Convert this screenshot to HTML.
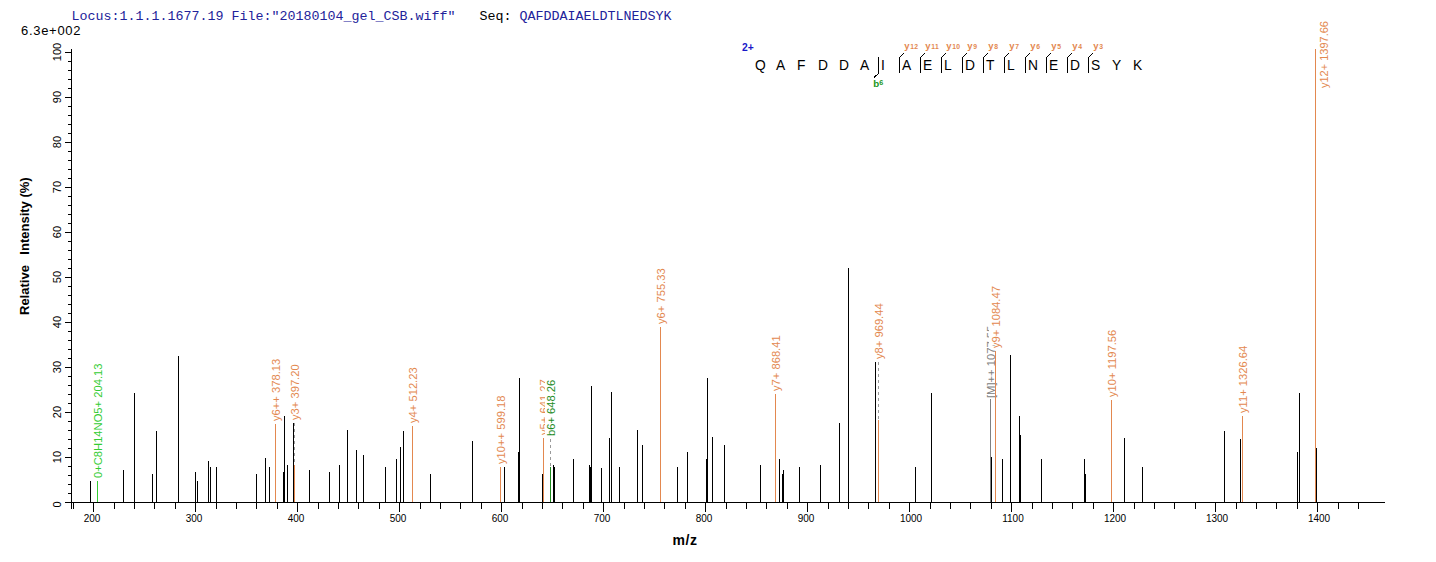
<!DOCTYPE html>
<html><head><meta charset="utf-8"><style>
html,body{margin:0;padding:0;background:#fff;width:1436px;height:562px;overflow:hidden}
svg{display:block}
</style></head><body>
<svg width="1436" height="562" viewBox="0 0 1436 562" shape-rendering="crispEdges">
<rect width="1436" height="562" fill="#fff"/>
<line x1="71.5" y1="49" x2="71.5" y2="509" stroke="#000" stroke-width="1"/>
<line x1="65" y1="502.5" x2="1385" y2="502.5" stroke="#000" stroke-width="1"/>
<line x1="65" y1="52.5" x2="71" y2="52.5" stroke="#000" stroke-width="1"/>
<line x1="68" y1="61.5" x2="71" y2="61.5" stroke="#000" stroke-width="1"/>
<line x1="68" y1="70.5" x2="71" y2="70.5" stroke="#000" stroke-width="1"/>
<line x1="68" y1="79.5" x2="71" y2="79.5" stroke="#000" stroke-width="1"/>
<line x1="68" y1="88.5" x2="71" y2="88.5" stroke="#000" stroke-width="1"/>
<line x1="65" y1="97.5" x2="71" y2="97.5" stroke="#000" stroke-width="1"/>
<line x1="68" y1="106.5" x2="71" y2="106.5" stroke="#000" stroke-width="1"/>
<line x1="68" y1="115.5" x2="71" y2="115.5" stroke="#000" stroke-width="1"/>
<line x1="68" y1="124.5" x2="71" y2="124.5" stroke="#000" stroke-width="1"/>
<line x1="68" y1="133.5" x2="71" y2="133.5" stroke="#000" stroke-width="1"/>
<line x1="65" y1="142.5" x2="71" y2="142.5" stroke="#000" stroke-width="1"/>
<line x1="68" y1="151.5" x2="71" y2="151.5" stroke="#000" stroke-width="1"/>
<line x1="68" y1="160.5" x2="71" y2="160.5" stroke="#000" stroke-width="1"/>
<line x1="68" y1="169.5" x2="71" y2="169.5" stroke="#000" stroke-width="1"/>
<line x1="68" y1="178.5" x2="71" y2="178.5" stroke="#000" stroke-width="1"/>
<line x1="65" y1="187.5" x2="71" y2="187.5" stroke="#000" stroke-width="1"/>
<line x1="68" y1="196.5" x2="71" y2="196.5" stroke="#000" stroke-width="1"/>
<line x1="68" y1="205.5" x2="71" y2="205.5" stroke="#000" stroke-width="1"/>
<line x1="68" y1="214.5" x2="71" y2="214.5" stroke="#000" stroke-width="1"/>
<line x1="68" y1="223.5" x2="71" y2="223.5" stroke="#000" stroke-width="1"/>
<line x1="65" y1="232.5" x2="71" y2="232.5" stroke="#000" stroke-width="1"/>
<line x1="68" y1="241.5" x2="71" y2="241.5" stroke="#000" stroke-width="1"/>
<line x1="68" y1="250.5" x2="71" y2="250.5" stroke="#000" stroke-width="1"/>
<line x1="68" y1="259.5" x2="71" y2="259.5" stroke="#000" stroke-width="1"/>
<line x1="68" y1="268.5" x2="71" y2="268.5" stroke="#000" stroke-width="1"/>
<line x1="65" y1="277.5" x2="71" y2="277.5" stroke="#000" stroke-width="1"/>
<line x1="68" y1="286.5" x2="71" y2="286.5" stroke="#000" stroke-width="1"/>
<line x1="68" y1="295.5" x2="71" y2="295.5" stroke="#000" stroke-width="1"/>
<line x1="68" y1="304.5" x2="71" y2="304.5" stroke="#000" stroke-width="1"/>
<line x1="68" y1="313.5" x2="71" y2="313.5" stroke="#000" stroke-width="1"/>
<line x1="65" y1="322.5" x2="71" y2="322.5" stroke="#000" stroke-width="1"/>
<line x1="68" y1="331.5" x2="71" y2="331.5" stroke="#000" stroke-width="1"/>
<line x1="68" y1="340.5" x2="71" y2="340.5" stroke="#000" stroke-width="1"/>
<line x1="68" y1="349.5" x2="71" y2="349.5" stroke="#000" stroke-width="1"/>
<line x1="68" y1="358.5" x2="71" y2="358.5" stroke="#000" stroke-width="1"/>
<line x1="65" y1="367.5" x2="71" y2="367.5" stroke="#000" stroke-width="1"/>
<line x1="68" y1="376.5" x2="71" y2="376.5" stroke="#000" stroke-width="1"/>
<line x1="68" y1="385.5" x2="71" y2="385.5" stroke="#000" stroke-width="1"/>
<line x1="68" y1="394.5" x2="71" y2="394.5" stroke="#000" stroke-width="1"/>
<line x1="68" y1="403.5" x2="71" y2="403.5" stroke="#000" stroke-width="1"/>
<line x1="65" y1="412.5" x2="71" y2="412.5" stroke="#000" stroke-width="1"/>
<line x1="68" y1="421.5" x2="71" y2="421.5" stroke="#000" stroke-width="1"/>
<line x1="68" y1="430.5" x2="71" y2="430.5" stroke="#000" stroke-width="1"/>
<line x1="68" y1="439.5" x2="71" y2="439.5" stroke="#000" stroke-width="1"/>
<line x1="68" y1="448.5" x2="71" y2="448.5" stroke="#000" stroke-width="1"/>
<line x1="65" y1="457.5" x2="71" y2="457.5" stroke="#000" stroke-width="1"/>
<line x1="68" y1="466.5" x2="71" y2="466.5" stroke="#000" stroke-width="1"/>
<line x1="68" y1="475.5" x2="71" y2="475.5" stroke="#000" stroke-width="1"/>
<line x1="68" y1="484.5" x2="71" y2="484.5" stroke="#000" stroke-width="1"/>
<line x1="68" y1="493.5" x2="71" y2="493.5" stroke="#000" stroke-width="1"/>
<line x1="65" y1="502.5" x2="71" y2="502.5" stroke="#000" stroke-width="1"/>
<text x="61" y="52" font-family="Liberation Sans" font-size="11" fill="#000" text-anchor="middle" font-weight="normal" transform="rotate(-90 61 52)">100</text>
<text x="61" y="97" font-family="Liberation Sans" font-size="11" fill="#000" text-anchor="middle" font-weight="normal" transform="rotate(-90 61 97)">90</text>
<text x="61" y="142" font-family="Liberation Sans" font-size="11" fill="#000" text-anchor="middle" font-weight="normal" transform="rotate(-90 61 142)">80</text>
<text x="61" y="187" font-family="Liberation Sans" font-size="11" fill="#000" text-anchor="middle" font-weight="normal" transform="rotate(-90 61 187)">70</text>
<text x="61" y="232" font-family="Liberation Sans" font-size="11" fill="#000" text-anchor="middle" font-weight="normal" transform="rotate(-90 61 232)">60</text>
<text x="61" y="277" font-family="Liberation Sans" font-size="11" fill="#000" text-anchor="middle" font-weight="normal" transform="rotate(-90 61 277)">50</text>
<text x="61" y="322" font-family="Liberation Sans" font-size="11" fill="#000" text-anchor="middle" font-weight="normal" transform="rotate(-90 61 322)">40</text>
<text x="61" y="367" font-family="Liberation Sans" font-size="11" fill="#000" text-anchor="middle" font-weight="normal" transform="rotate(-90 61 367)">30</text>
<text x="61" y="412" font-family="Liberation Sans" font-size="11" fill="#000" text-anchor="middle" font-weight="normal" transform="rotate(-90 61 412)">20</text>
<text x="61" y="457" font-family="Liberation Sans" font-size="11" fill="#000" text-anchor="middle" font-weight="normal" transform="rotate(-90 61 457)">10</text>
<text x="61" y="504.5" font-family="Liberation Sans" font-size="11" fill="#000" text-anchor="middle" font-weight="normal" transform="rotate(-90 61 504.5)">0</text>
<line x1="73.5" y1="502" x2="73.5" y2="509" stroke="#000" stroke-width="1"/>
<line x1="93.5" y1="502" x2="93.5" y2="512" stroke="#000" stroke-width="1"/>
<text x="92" y="522" font-family="Liberation Sans" font-size="10" fill="#000" text-anchor="middle" font-weight="normal">200</text>
<line x1="114.5" y1="502" x2="114.5" y2="509" stroke="#000" stroke-width="1"/>
<line x1="134.5" y1="502" x2="134.5" y2="509" stroke="#000" stroke-width="1"/>
<line x1="154.5" y1="502" x2="154.5" y2="509" stroke="#000" stroke-width="1"/>
<line x1="175.5" y1="502" x2="175.5" y2="509" stroke="#000" stroke-width="1"/>
<line x1="195.5" y1="502" x2="195.5" y2="512" stroke="#000" stroke-width="1"/>
<text x="194" y="522" font-family="Liberation Sans" font-size="10" fill="#000" text-anchor="middle" font-weight="normal">300</text>
<line x1="216.5" y1="502" x2="216.5" y2="509" stroke="#000" stroke-width="1"/>
<line x1="236.5" y1="502" x2="236.5" y2="509" stroke="#000" stroke-width="1"/>
<line x1="256.5" y1="502" x2="256.5" y2="509" stroke="#000" stroke-width="1"/>
<line x1="277.5" y1="502" x2="277.5" y2="509" stroke="#000" stroke-width="1"/>
<line x1="297.5" y1="502" x2="297.5" y2="512" stroke="#000" stroke-width="1"/>
<text x="296" y="522" font-family="Liberation Sans" font-size="10" fill="#000" text-anchor="middle" font-weight="normal">400</text>
<line x1="318.5" y1="502" x2="318.5" y2="509" stroke="#000" stroke-width="1"/>
<line x1="338.5" y1="502" x2="338.5" y2="509" stroke="#000" stroke-width="1"/>
<line x1="358.5" y1="502" x2="358.5" y2="509" stroke="#000" stroke-width="1"/>
<line x1="379.5" y1="502" x2="379.5" y2="509" stroke="#000" stroke-width="1"/>
<line x1="399.5" y1="502" x2="399.5" y2="512" stroke="#000" stroke-width="1"/>
<text x="398" y="522" font-family="Liberation Sans" font-size="10" fill="#000" text-anchor="middle" font-weight="normal">500</text>
<line x1="420.5" y1="502" x2="420.5" y2="509" stroke="#000" stroke-width="1"/>
<line x1="440.5" y1="502" x2="440.5" y2="509" stroke="#000" stroke-width="1"/>
<line x1="460.5" y1="502" x2="460.5" y2="509" stroke="#000" stroke-width="1"/>
<line x1="481.5" y1="502" x2="481.5" y2="509" stroke="#000" stroke-width="1"/>
<line x1="501.5" y1="502" x2="501.5" y2="512" stroke="#000" stroke-width="1"/>
<text x="500" y="522" font-family="Liberation Sans" font-size="10" fill="#000" text-anchor="middle" font-weight="normal">600</text>
<line x1="522.5" y1="502" x2="522.5" y2="509" stroke="#000" stroke-width="1"/>
<line x1="542.5" y1="502" x2="542.5" y2="509" stroke="#000" stroke-width="1"/>
<line x1="562.5" y1="502" x2="562.5" y2="509" stroke="#000" stroke-width="1"/>
<line x1="583.5" y1="502" x2="583.5" y2="509" stroke="#000" stroke-width="1"/>
<line x1="603.5" y1="502" x2="603.5" y2="512" stroke="#000" stroke-width="1"/>
<text x="602" y="522" font-family="Liberation Sans" font-size="10" fill="#000" text-anchor="middle" font-weight="normal">700</text>
<line x1="624.5" y1="502" x2="624.5" y2="509" stroke="#000" stroke-width="1"/>
<line x1="644.5" y1="502" x2="644.5" y2="509" stroke="#000" stroke-width="1"/>
<line x1="664.5" y1="502" x2="664.5" y2="509" stroke="#000" stroke-width="1"/>
<line x1="685.5" y1="502" x2="685.5" y2="509" stroke="#000" stroke-width="1"/>
<line x1="705.5" y1="502" x2="705.5" y2="512" stroke="#000" stroke-width="1"/>
<text x="704" y="522" font-family="Liberation Sans" font-size="10" fill="#000" text-anchor="middle" font-weight="normal">800</text>
<line x1="726.5" y1="502" x2="726.5" y2="509" stroke="#000" stroke-width="1"/>
<line x1="746.5" y1="502" x2="746.5" y2="509" stroke="#000" stroke-width="1"/>
<line x1="766.5" y1="502" x2="766.5" y2="509" stroke="#000" stroke-width="1"/>
<line x1="787.5" y1="502" x2="787.5" y2="509" stroke="#000" stroke-width="1"/>
<line x1="807.5" y1="502" x2="807.5" y2="512" stroke="#000" stroke-width="1"/>
<text x="806" y="522" font-family="Liberation Sans" font-size="10" fill="#000" text-anchor="middle" font-weight="normal">900</text>
<line x1="828.5" y1="502" x2="828.5" y2="509" stroke="#000" stroke-width="1"/>
<line x1="848.5" y1="502" x2="848.5" y2="509" stroke="#000" stroke-width="1"/>
<line x1="868.5" y1="502" x2="868.5" y2="509" stroke="#000" stroke-width="1"/>
<line x1="889.5" y1="502" x2="889.5" y2="509" stroke="#000" stroke-width="1"/>
<line x1="909.5" y1="502" x2="909.5" y2="512" stroke="#000" stroke-width="1"/>
<text x="911" y="522" font-family="Liberation Sans" font-size="10" fill="#000" text-anchor="middle" font-weight="normal">1000</text>
<line x1="930.5" y1="502" x2="930.5" y2="509" stroke="#000" stroke-width="1"/>
<line x1="950.5" y1="502" x2="950.5" y2="509" stroke="#000" stroke-width="1"/>
<line x1="970.5" y1="502" x2="970.5" y2="509" stroke="#000" stroke-width="1"/>
<line x1="991.5" y1="502" x2="991.5" y2="509" stroke="#000" stroke-width="1"/>
<line x1="1011.5" y1="502" x2="1011.5" y2="512" stroke="#000" stroke-width="1"/>
<text x="1013" y="522" font-family="Liberation Sans" font-size="10" fill="#000" text-anchor="middle" font-weight="normal">1100</text>
<line x1="1032.5" y1="502" x2="1032.5" y2="509" stroke="#000" stroke-width="1"/>
<line x1="1052.5" y1="502" x2="1052.5" y2="509" stroke="#000" stroke-width="1"/>
<line x1="1072.5" y1="502" x2="1072.5" y2="509" stroke="#000" stroke-width="1"/>
<line x1="1093.5" y1="502" x2="1093.5" y2="509" stroke="#000" stroke-width="1"/>
<line x1="1113.5" y1="502" x2="1113.5" y2="512" stroke="#000" stroke-width="1"/>
<text x="1115" y="522" font-family="Liberation Sans" font-size="10" fill="#000" text-anchor="middle" font-weight="normal">1200</text>
<line x1="1134.5" y1="502" x2="1134.5" y2="509" stroke="#000" stroke-width="1"/>
<line x1="1154.5" y1="502" x2="1154.5" y2="509" stroke="#000" stroke-width="1"/>
<line x1="1174.5" y1="502" x2="1174.5" y2="509" stroke="#000" stroke-width="1"/>
<line x1="1195.5" y1="502" x2="1195.5" y2="509" stroke="#000" stroke-width="1"/>
<line x1="1215.5" y1="502" x2="1215.5" y2="512" stroke="#000" stroke-width="1"/>
<text x="1217" y="522" font-family="Liberation Sans" font-size="10" fill="#000" text-anchor="middle" font-weight="normal">1300</text>
<line x1="1236.5" y1="502" x2="1236.5" y2="509" stroke="#000" stroke-width="1"/>
<line x1="1256.5" y1="502" x2="1256.5" y2="509" stroke="#000" stroke-width="1"/>
<line x1="1276.5" y1="502" x2="1276.5" y2="509" stroke="#000" stroke-width="1"/>
<line x1="1297.5" y1="502" x2="1297.5" y2="509" stroke="#000" stroke-width="1"/>
<line x1="1317.5" y1="502" x2="1317.5" y2="512" stroke="#000" stroke-width="1"/>
<text x="1319" y="522" font-family="Liberation Sans" font-size="10" fill="#000" text-anchor="middle" font-weight="normal">1400</text>
<line x1="1338.5" y1="502" x2="1338.5" y2="509" stroke="#000" stroke-width="1"/>
<line x1="1358.5" y1="502" x2="1358.5" y2="509" stroke="#000" stroke-width="1"/>
<line x1="90.5" y1="481" x2="90.5" y2="502" stroke="#000" stroke-width="1"/>
<line x1="123.5" y1="470" x2="123.5" y2="502" stroke="#000" stroke-width="1"/>
<line x1="134.5" y1="393" x2="134.5" y2="502" stroke="#000" stroke-width="1"/>
<line x1="152.5" y1="474" x2="152.5" y2="502" stroke="#000" stroke-width="1"/>
<line x1="156.5" y1="431" x2="156.5" y2="502" stroke="#000" stroke-width="1"/>
<line x1="178.5" y1="356" x2="178.5" y2="502" stroke="#000" stroke-width="1"/>
<line x1="195.5" y1="472" x2="195.5" y2="502" stroke="#000" stroke-width="1"/>
<line x1="197.5" y1="481" x2="197.5" y2="502" stroke="#000" stroke-width="1"/>
<line x1="208.5" y1="461" x2="208.5" y2="502" stroke="#000" stroke-width="1"/>
<line x1="210.5" y1="467" x2="210.5" y2="502" stroke="#000" stroke-width="1"/>
<line x1="216.5" y1="467" x2="216.5" y2="502" stroke="#000" stroke-width="1"/>
<line x1="256.5" y1="474" x2="256.5" y2="502" stroke="#000" stroke-width="1"/>
<line x1="265.5" y1="458" x2="265.5" y2="502" stroke="#000" stroke-width="1"/>
<line x1="269.5" y1="467" x2="269.5" y2="502" stroke="#000" stroke-width="1"/>
<line x1="283.5" y1="472" x2="283.5" y2="502" stroke="#000" stroke-width="1"/>
<line x1="284.5" y1="416" x2="284.5" y2="502" stroke="#000" stroke-width="1"/>
<line x1="287.5" y1="465" x2="287.5" y2="502" stroke="#000" stroke-width="1"/>
<line x1="309.5" y1="470" x2="309.5" y2="502" stroke="#000" stroke-width="1"/>
<line x1="329.5" y1="472" x2="329.5" y2="502" stroke="#000" stroke-width="1"/>
<line x1="339.5" y1="465" x2="339.5" y2="502" stroke="#000" stroke-width="1"/>
<line x1="347.5" y1="430" x2="347.5" y2="502" stroke="#000" stroke-width="1"/>
<line x1="356.5" y1="450" x2="356.5" y2="502" stroke="#000" stroke-width="1"/>
<line x1="363.5" y1="455" x2="363.5" y2="502" stroke="#000" stroke-width="1"/>
<line x1="385.5" y1="467" x2="385.5" y2="502" stroke="#000" stroke-width="1"/>
<line x1="396.5" y1="459" x2="396.5" y2="502" stroke="#000" stroke-width="1"/>
<line x1="400.5" y1="447" x2="400.5" y2="502" stroke="#000" stroke-width="1"/>
<line x1="403.5" y1="431" x2="403.5" y2="502" stroke="#000" stroke-width="1"/>
<line x1="430.5" y1="474" x2="430.5" y2="502" stroke="#000" stroke-width="1"/>
<line x1="472.5" y1="441" x2="472.5" y2="502" stroke="#000" stroke-width="1"/>
<line x1="504.5" y1="467" x2="504.5" y2="502" stroke="#000" stroke-width="1"/>
<line x1="518.5" y1="452" x2="518.5" y2="502" stroke="#000" stroke-width="1"/>
<line x1="519.5" y1="378" x2="519.5" y2="502" stroke="#000" stroke-width="1"/>
<line x1="542.5" y1="474" x2="542.5" y2="502" stroke="#000" stroke-width="1"/>
<line x1="553.5" y1="465" x2="553.5" y2="502" stroke="#000" stroke-width="1"/>
<line x1="554.5" y1="467" x2="554.5" y2="502" stroke="#000" stroke-width="1"/>
<line x1="573.5" y1="459" x2="573.5" y2="502" stroke="#000" stroke-width="1"/>
<line x1="589.5" y1="465" x2="589.5" y2="502" stroke="#000" stroke-width="1"/>
<line x1="590.5" y1="467" x2="590.5" y2="502" stroke="#000" stroke-width="1"/>
<line x1="591.5" y1="386" x2="591.5" y2="502" stroke="#000" stroke-width="1"/>
<line x1="601.5" y1="468" x2="601.5" y2="502" stroke="#000" stroke-width="1"/>
<line x1="609.5" y1="438" x2="609.5" y2="502" stroke="#000" stroke-width="1"/>
<line x1="611.5" y1="392" x2="611.5" y2="502" stroke="#000" stroke-width="1"/>
<line x1="619.5" y1="467" x2="619.5" y2="502" stroke="#000" stroke-width="1"/>
<line x1="637.5" y1="430" x2="637.5" y2="502" stroke="#000" stroke-width="1"/>
<line x1="642.5" y1="445" x2="642.5" y2="502" stroke="#000" stroke-width="1"/>
<line x1="677.5" y1="467" x2="677.5" y2="502" stroke="#000" stroke-width="1"/>
<line x1="687.5" y1="452" x2="687.5" y2="502" stroke="#000" stroke-width="1"/>
<line x1="706.5" y1="459" x2="706.5" y2="502" stroke="#000" stroke-width="1"/>
<line x1="707.5" y1="378" x2="707.5" y2="502" stroke="#000" stroke-width="1"/>
<line x1="712.5" y1="437" x2="712.5" y2="502" stroke="#000" stroke-width="1"/>
<line x1="724.5" y1="445" x2="724.5" y2="502" stroke="#000" stroke-width="1"/>
<line x1="760.5" y1="465" x2="760.5" y2="502" stroke="#000" stroke-width="1"/>
<line x1="779.5" y1="459" x2="779.5" y2="502" stroke="#000" stroke-width="1"/>
<line x1="782.5" y1="474" x2="782.5" y2="502" stroke="#000" stroke-width="1"/>
<line x1="783.5" y1="470" x2="783.5" y2="502" stroke="#000" stroke-width="1"/>
<line x1="799.5" y1="467" x2="799.5" y2="502" stroke="#000" stroke-width="1"/>
<line x1="820.5" y1="465" x2="820.5" y2="502" stroke="#000" stroke-width="1"/>
<line x1="839.5" y1="423" x2="839.5" y2="502" stroke="#000" stroke-width="1"/>
<line x1="848.5" y1="268" x2="848.5" y2="502" stroke="#000" stroke-width="1"/>
<line x1="875.5" y1="362" x2="875.5" y2="502" stroke="#000" stroke-width="1"/>
<line x1="915.5" y1="467" x2="915.5" y2="502" stroke="#000" stroke-width="1"/>
<line x1="931.5" y1="393" x2="931.5" y2="502" stroke="#000" stroke-width="1"/>
<line x1="991.5" y1="457" x2="991.5" y2="502" stroke="#000" stroke-width="1"/>
<line x1="1002.5" y1="459" x2="1002.5" y2="502" stroke="#000" stroke-width="1"/>
<line x1="1010.5" y1="355" x2="1010.5" y2="502" stroke="#000" stroke-width="1"/>
<line x1="1019.5" y1="416" x2="1019.5" y2="502" stroke="#000" stroke-width="1"/>
<line x1="1020.5" y1="435" x2="1020.5" y2="502" stroke="#000" stroke-width="1"/>
<line x1="1041.5" y1="459" x2="1041.5" y2="502" stroke="#000" stroke-width="1"/>
<line x1="1084.5" y1="459" x2="1084.5" y2="502" stroke="#000" stroke-width="1"/>
<line x1="1085.5" y1="474" x2="1085.5" y2="502" stroke="#000" stroke-width="1"/>
<line x1="1124.5" y1="438" x2="1124.5" y2="502" stroke="#000" stroke-width="1"/>
<line x1="1142.5" y1="467" x2="1142.5" y2="502" stroke="#000" stroke-width="1"/>
<line x1="1224.5" y1="431" x2="1224.5" y2="502" stroke="#000" stroke-width="1"/>
<line x1="1240.5" y1="439" x2="1240.5" y2="502" stroke="#000" stroke-width="1"/>
<line x1="1297.5" y1="452" x2="1297.5" y2="502" stroke="#000" stroke-width="1"/>
<line x1="1299.5" y1="393" x2="1299.5" y2="502" stroke="#000" stroke-width="1"/>
<line x1="1316.5" y1="448" x2="1316.5" y2="502" stroke="#000" stroke-width="1"/>
<line x1="97.5" y1="481" x2="97.5" y2="502" stroke="#33CC33" stroke-width="1"/>
<text x="102" y="478" font-family="Liberation Sans" font-size="11.2" fill="#33CC33" text-anchor="start" font-weight="normal" transform="rotate(-90 102 478)">0+C8H14NO5+ 204.13</text>
<line x1="275.5" y1="424" x2="275.5" y2="502" stroke="#E3884F" stroke-width="1"/>
<text x="280" y="421" font-family="Liberation Sans" font-size="11.2" fill="#E3884F" text-anchor="start" font-weight="normal" transform="rotate(-90 280 421)">y6++ 378.13</text>
<line x1="293.5" y1="423" x2="293.5" y2="502" stroke="#000" stroke-width="1"/>
<line x1="294.5" y1="423" x2="294.5" y2="465" stroke="#9A9A9A" stroke-width="1" stroke-dasharray="3,3"/>
<line x1="294.5" y1="465" x2="294.5" y2="502" stroke="#E3884F" stroke-width="1"/>
<text x="299" y="420" font-family="Liberation Sans" font-size="11.2" fill="#E3884F" text-anchor="start" font-weight="normal" transform="rotate(-90 299 420)">y3+ 397.20</text>
<line x1="412.5" y1="426" x2="412.5" y2="502" stroke="#E3884F" stroke-width="1"/>
<text x="417" y="423" font-family="Liberation Sans" font-size="11.2" fill="#E3884F" text-anchor="start" font-weight="normal" transform="rotate(-90 417 423)">y4+ 512.23</text>
<line x1="500.5" y1="467" x2="500.5" y2="502" stroke="#E3884F" stroke-width="1"/>
<text x="505" y="464" font-family="Liberation Sans" font-size="11.2" fill="#E3884F" text-anchor="start" font-weight="normal" transform="rotate(-90 505 464)">y10++ 599.18</text>
<line x1="543.5" y1="438" x2="543.5" y2="502" stroke="#E3884F" stroke-width="1"/>
<text x="548" y="435" font-family="Liberation Sans" font-size="11.2" fill="#E3884F" text-anchor="start" font-weight="normal" transform="rotate(-90 548 435)">y5+ 641.27</text>
<rect x="545" y="378" width="12" height="58" fill="#fff"/>
<line x1="550.5" y1="439" x2="550.5" y2="467" stroke="#9A9A9A" stroke-width="1" stroke-dasharray="3,3"/>
<line x1="550.5" y1="467" x2="550.5" y2="502" stroke="#1E8C1E" stroke-width="1"/>
<text x="555" y="436" font-family="Liberation Sans" font-size="11.2" fill="#1E8C1E" text-anchor="start" font-weight="normal" transform="rotate(-90 555 436)">b6+ 648.26</text>
<line x1="660.5" y1="327" x2="660.5" y2="502" stroke="#E3884F" stroke-width="1"/>
<text x="665" y="324" font-family="Liberation Sans" font-size="11.2" fill="#E3884F" text-anchor="start" font-weight="normal" transform="rotate(-90 665 324)">y6+ 755.33</text>
<line x1="775.5" y1="394" x2="775.5" y2="502" stroke="#E3884F" stroke-width="1"/>
<text x="780" y="391" font-family="Liberation Sans" font-size="11.2" fill="#E3884F" text-anchor="start" font-weight="normal" transform="rotate(-90 780 391)">y7+ 868.41</text>
<line x1="878.5" y1="362" x2="878.5" y2="420" stroke="#9A9A9A" stroke-width="1" stroke-dasharray="3,3"/>
<line x1="878.5" y1="420" x2="878.5" y2="502" stroke="#E3884F" stroke-width="1"/>
<text x="883" y="359" font-family="Liberation Sans" font-size="11.2" fill="#E3884F" text-anchor="start" font-weight="normal" transform="rotate(-90 883 359)">y8+ 969.44</text>
<line x1="990.5" y1="399" x2="990.5" y2="502" stroke="#808080" stroke-width="1"/>
<text x="995" y="398" font-family="Liberation Sans" font-size="11.2" fill="#808080" text-anchor="start" font-weight="normal" transform="rotate(-90 995 398)">[M]++ 1077.55</text>
<rect x="989" y="286" width="14" height="59" fill="#fff"/>
<line x1="995.5" y1="351" x2="995.5" y2="502" stroke="#E3884F" stroke-width="1"/>
<text x="1000" y="348" font-family="Liberation Sans" font-size="11.2" fill="#E3884F" text-anchor="start" font-weight="normal" transform="rotate(-90 1000 348)">y9+ 1084.47</text>
<line x1="1111.5" y1="400" x2="1111.5" y2="502" stroke="#E3884F" stroke-width="1"/>
<text x="1116" y="397" font-family="Liberation Sans" font-size="11.2" fill="#E3884F" text-anchor="start" font-weight="normal" transform="rotate(-90 1116 397)">y10+ 1197.56</text>
<line x1="1242.5" y1="416" x2="1242.5" y2="502" stroke="#E3884F" stroke-width="1"/>
<text x="1247" y="413" font-family="Liberation Sans" font-size="11.2" fill="#E3884F" text-anchor="start" font-weight="normal" transform="rotate(-90 1247 413)">y11+ 1326.64</text>
<line x1="1315.5" y1="49" x2="1315.5" y2="502" stroke="#E3884F" stroke-width="1"/>
<text x="1328" y="88" font-family="Liberation Sans" font-size="11" fill="#E3884F" text-anchor="start" font-weight="normal" transform="rotate(-90 1328 88)">y12+ 1397.66</text>
<text x="71.5" y="20" font-family="Liberation Mono" font-size="13.333" fill="#22229A" xml:space="preserve">Locus:1.1.1.1677.19 File:"20180104_gel_CSB.wiff"   <tspan fill="#000">Seq:</tspan> QAFDDAIAELDTLNEDSYK</text>
<text x="21" y="35" font-family="Liberation Sans" font-size="13" fill="#000" text-anchor="start" font-weight="normal" letter-spacing="0.7">6.3e+002</text>
<text x="29" y="315" font-family="Liberation Sans" font-size="13" font-weight="bold" fill="#000" transform="rotate(-90 29 315)">Relative<tspan dx="10.5">Intensity (%)</tspan></text>
<text x="685" y="545" font-family="Liberation Sans" font-size="14" fill="#000" text-anchor="middle" font-weight="bold" letter-spacing="0.6">m/z</text>
<text x="755" y="69.8" font-family="Liberation Sans" font-size="13.8" fill="#000" text-anchor="start" font-weight="normal">Q</text>
<text x="776" y="69.8" font-family="Liberation Sans" font-size="13.8" fill="#000" text-anchor="start" font-weight="normal">A</text>
<text x="797" y="69.8" font-family="Liberation Sans" font-size="13.8" fill="#000" text-anchor="start" font-weight="normal">F</text>
<text x="818" y="69.8" font-family="Liberation Sans" font-size="13.8" fill="#000" text-anchor="start" font-weight="normal">D</text>
<text x="839" y="69.8" font-family="Liberation Sans" font-size="13.8" fill="#000" text-anchor="start" font-weight="normal">D</text>
<text x="860" y="69.8" font-family="Liberation Sans" font-size="13.8" fill="#000" text-anchor="start" font-weight="normal">A</text>
<text x="881" y="69.8" font-family="Liberation Sans" font-size="13.8" fill="#000" text-anchor="start" font-weight="normal">I</text>
<text x="902" y="69.8" font-family="Liberation Sans" font-size="13.8" fill="#000" text-anchor="start" font-weight="normal">A</text>
<text x="923" y="69.8" font-family="Liberation Sans" font-size="13.8" fill="#000" text-anchor="start" font-weight="normal">E</text>
<text x="944" y="69.8" font-family="Liberation Sans" font-size="13.8" fill="#000" text-anchor="start" font-weight="normal">L</text>
<text x="965" y="69.8" font-family="Liberation Sans" font-size="13.8" fill="#000" text-anchor="start" font-weight="normal">D</text>
<text x="986" y="69.8" font-family="Liberation Sans" font-size="13.8" fill="#000" text-anchor="start" font-weight="normal">T</text>
<text x="1007" y="69.8" font-family="Liberation Sans" font-size="13.8" fill="#000" text-anchor="start" font-weight="normal">L</text>
<text x="1028" y="69.8" font-family="Liberation Sans" font-size="13.8" fill="#000" text-anchor="start" font-weight="normal">N</text>
<text x="1049" y="69.8" font-family="Liberation Sans" font-size="13.8" fill="#000" text-anchor="start" font-weight="normal">E</text>
<text x="1070" y="69.8" font-family="Liberation Sans" font-size="13.8" fill="#000" text-anchor="start" font-weight="normal">D</text>
<text x="1091" y="69.8" font-family="Liberation Sans" font-size="13.8" fill="#000" text-anchor="start" font-weight="normal">S</text>
<text x="1112" y="69.8" font-family="Liberation Sans" font-size="13.8" fill="#000" text-anchor="start" font-weight="normal">Y</text>
<text x="1133" y="69.8" font-family="Liberation Sans" font-size="13.8" fill="#000" text-anchor="start" font-weight="normal">K</text>
<text x="742" y="50.9" font-family="Liberation Sans" font-size="10.3" fill="#1818C8" text-anchor="start" font-weight="bold">2+</text>
<polyline points="878.5,57 878.5,73.5 874,77.5" fill="none" stroke="#000" stroke-width="1"/>
<text x="873.2" y="86.8" font-family="Liberation Sans" font-size="9.8" fill="#1A961A" text-anchor="start" font-weight="bold">b</text>
<text x="879.2" y="85.4" font-family="Liberation Sans" font-size="7.2" font-weight="bold" fill="#1A961A">6</text>
<polyline points="899.5,73 899.5,57.5 904.0,53" fill="none" stroke="#000" stroke-width="1"/>
<text x="904.2" y="49.4" font-family="Liberation Sans" font-size="9.5" fill="#E3884F" text-anchor="start" font-weight="bold">y</text>
<text x="910.2" y="48.8" font-family="Liberation Sans" font-size="6.8" font-weight="bold" letter-spacing="0.3" fill="#E3884F">12</text>
<polyline points="920.5,73 920.5,57.5 925.0,53" fill="none" stroke="#000" stroke-width="1"/>
<text x="925.2" y="49.4" font-family="Liberation Sans" font-size="9.5" fill="#E3884F" text-anchor="start" font-weight="bold">y</text>
<text x="931.2" y="48.8" font-family="Liberation Sans" font-size="6.8" font-weight="bold" letter-spacing="0.3" fill="#E3884F">11</text>
<polyline points="941.5,73 941.5,57.5 946.0,53" fill="none" stroke="#000" stroke-width="1"/>
<text x="946.2" y="49.4" font-family="Liberation Sans" font-size="9.5" fill="#E3884F" text-anchor="start" font-weight="bold">y</text>
<text x="952.2" y="48.8" font-family="Liberation Sans" font-size="6.8" font-weight="bold" letter-spacing="0.3" fill="#E3884F">10</text>
<polyline points="962.5,73 962.5,57.5 967.0,53" fill="none" stroke="#000" stroke-width="1"/>
<text x="967.2" y="49.4" font-family="Liberation Sans" font-size="9.5" fill="#E3884F" text-anchor="start" font-weight="bold">y</text>
<text x="973.2" y="48.8" font-family="Liberation Sans" font-size="6.8" font-weight="bold" letter-spacing="0.3" fill="#E3884F">9</text>
<polyline points="983.5,73 983.5,57.5 988.0,53" fill="none" stroke="#000" stroke-width="1"/>
<text x="988.2" y="49.4" font-family="Liberation Sans" font-size="9.5" fill="#E3884F" text-anchor="start" font-weight="bold">y</text>
<text x="994.2" y="48.8" font-family="Liberation Sans" font-size="6.8" font-weight="bold" letter-spacing="0.3" fill="#E3884F">8</text>
<polyline points="1004.5,73 1004.5,57.5 1009.0,53" fill="none" stroke="#000" stroke-width="1"/>
<text x="1009.2" y="49.4" font-family="Liberation Sans" font-size="9.5" fill="#E3884F" text-anchor="start" font-weight="bold">y</text>
<text x="1015.2" y="48.8" font-family="Liberation Sans" font-size="6.8" font-weight="bold" letter-spacing="0.3" fill="#E3884F">7</text>
<polyline points="1025.5,73 1025.5,57.5 1030.0,53" fill="none" stroke="#000" stroke-width="1"/>
<text x="1030.2" y="49.4" font-family="Liberation Sans" font-size="9.5" fill="#E3884F" text-anchor="start" font-weight="bold">y</text>
<text x="1036.2" y="48.8" font-family="Liberation Sans" font-size="6.8" font-weight="bold" letter-spacing="0.3" fill="#E3884F">6</text>
<polyline points="1046.5,73 1046.5,57.5 1051.0,53" fill="none" stroke="#000" stroke-width="1"/>
<text x="1051.2" y="49.4" font-family="Liberation Sans" font-size="9.5" fill="#E3884F" text-anchor="start" font-weight="bold">y</text>
<text x="1057.2" y="48.8" font-family="Liberation Sans" font-size="6.8" font-weight="bold" letter-spacing="0.3" fill="#E3884F">5</text>
<polyline points="1067.5,73 1067.5,57.5 1072.0,53" fill="none" stroke="#000" stroke-width="1"/>
<text x="1072.2" y="49.4" font-family="Liberation Sans" font-size="9.5" fill="#E3884F" text-anchor="start" font-weight="bold">y</text>
<text x="1078.2" y="48.8" font-family="Liberation Sans" font-size="6.8" font-weight="bold" letter-spacing="0.3" fill="#E3884F">4</text>
<polyline points="1088.5,73 1088.5,57.5 1093.0,53" fill="none" stroke="#000" stroke-width="1"/>
<text x="1093.2" y="49.4" font-family="Liberation Sans" font-size="9.5" fill="#E3884F" text-anchor="start" font-weight="bold">y</text>
<text x="1099.2" y="48.8" font-family="Liberation Sans" font-size="6.8" font-weight="bold" letter-spacing="0.3" fill="#E3884F">3</text>
</svg>
</body></html>
